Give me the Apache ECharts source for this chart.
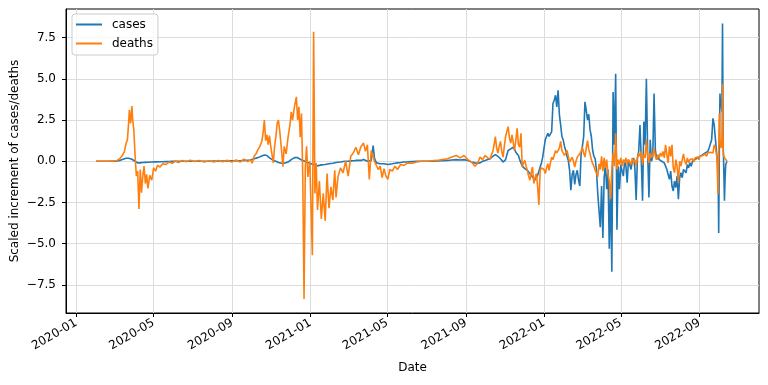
<!DOCTYPE html>
<html>
<head>
<meta charset="utf-8">
<title>Scaled increment of cases/deaths</title>
<script src="https://cdn.jsdelivr.net/npm/echarts@6/dist/echarts.min.js"></script>
<style>
  html, body { margin: 0; padding: 0; background: #fff; }
  #chart { width: 768px; height: 385px; }
</style>
</head>
<body>
<div id="chart"></div>
<script>
// days counted from 2020-01-01
const dayOffsets = [
  31, 40, 50, 60, 64, 68, 72, 75, 78, 80,
  82, 83, 85, 87, 88, 90, 92, 94, 96, 98,
  100, 102, 104, 106, 108, 110, 112, 115, 118, 121,
  124, 127, 131, 135, 140, 145, 150, 155, 160, 166,
  172, 178, 185, 192, 200, 208, 215, 222, 229, 236,
  243, 250, 256, 262, 268, 272, 275, 278, 281, 284,
  287, 290, 292, 294, 296, 298, 300, 302, 304, 308,
  310, 312, 314, 316, 318, 321, 323, 325, 328, 331,
  334, 336, 338, 341, 344, 346, 348, 350, 352, 354,
  356, 358, 360, 362, 365, 369, 371, 373, 375, 377,
  380, 383, 386, 389, 392, 395, 398, 401, 404, 406,
  409, 413, 417, 421, 425, 429, 433, 437, 441, 445,
  449, 452, 455, 458, 461, 464, 466, 469, 472, 475,
  478, 481, 484, 487, 490, 494, 498, 502, 507, 512,
  518, 525, 532, 540, 548, 556, 564, 572, 580, 587,
  594, 600, 606, 612, 618, 623, 627, 631, 635, 639,
  643,
  647, 649, 651, 653, 655, 657, 659, 661, 663, 665,
  667, 669, 671, 673, 675, 677, 679, 681, 683, 685,
  687, 689, 691, 693, 695, 697, 699, 701, 703, 705,
  707, 709, 711, 713, 715, 717, 719, 721, 723, 725,
  727, 729, 731, 733, 735, 737, 739, 741, 743, 745,
  747, 749, 751, 753, 755, 757, 759, 761, 763, 765,
  767, 769, 771, 773, 775, 777, 779, 781, 783, 785,
  787, 789, 791, 793, 795, 797, 799, 801, 803, 805,
  807, 809, 811, 813, 815, 817, 819, 821, 823, 825,
  827, 829, 831, 833, 835, 837, 839, 841, 843, 845,
  847, 849, 851, 853, 855, 857, 859, 861, 863, 865,
  867, 869, 871, 873, 875, 877, 879, 881, 883, 885,
  887, 889, 891, 893, 895, 897, 899, 901, 903, 905,
  907, 909, 911, 913, 915, 917, 919, 921, 923, 925,
  927, 929, 931, 933, 935, 937, 939, 941, 943, 945,
  947, 949, 951, 953, 955, 957, 959, 961, 963, 965,
  967, 969, 971, 973, 975, 977, 979, 981, 983, 985,
  987, 989, 991, 993, 995, 997, 999, 1001,
  1003, 1004, 1005, 1006, 1007, 1008, 1009, 1010, 1011, 1012,
  1013, 1014, 1015, 1016, 1017
]

const cases = [
  0, 0, 0, 0, 0.02, 0.05, 0.1, 0.14, 0.18, 0.17,
  0.18, 0.16, 0.15, 0.12, 0.1, 0.05, 0.0, -0.05, -0.1, -0.12,
  -0.1, -0.1, -0.08, -0.08, -0.07, -0.06, -0.06, -0.05, -0.05, -0.05,
  -0.04, -0.04, -0.03, -0.03, -0.02, -0.02, -0.01, -0.01, 0, 0,
  0, 0, 0, 0, 0, 0, 0.01, 0.01, 0.01, 0.02,
  0.02, 0.03, 0.03, 0.05, 0.05, 0.08, 0.1, 0.15, 0.2, 0.22,
  0.28, 0.32, 0.35, 0.38, 0.38, 0.35, 0.3, 0.2, 0.15, 0.05,
  0.02, 0, -0.05, -0.08, -0.1, -0.12, -0.12, -0.12, -0.12, -0.05,
  0.02, 0.1, 0.15, 0.22, 0.25, 0.22, 0.2, 0.12, 0.08, 0.05,
  0.02, -0.02, -0.05, -0.08, -0.12, -0.18, -0.2, -0.22, -0.25, -0.28,
  -0.25, -0.22, -0.2, -0.2, -0.18, -0.15, -0.15, -0.12, -0.1, -0.08,
  -0.06, -0.05, -0.02, 0, 0, 0.02, 0.03, 0.05, 0.05, 0.05,
  0.1, 0.05, 0.0, -0.05, 0.05, 0.95, 0.2, -0.1, -0.15, -0.15,
  -0.2, -0.15, -0.2, -0.2, -0.15, -0.15, -0.12, -0.1, -0.08, -0.05,
  -0.04, -0.02, 0, 0, 0, 0, 0.02, 0.03, 0.05, 0.08,
  0.1, 0.08, 0.1, 0.05, -0.05, -0.1, -0.12, -0.1, 0.0, 0.05,
  0.1,
  0.15, 0.2, 0.3, 0.35, 0.4, 0.4, 0.3, 0.2, 0.15, 0.05,
  -0.05, 0.0, 0.1, 0.4, 0.65, 0.7, 0.75, 0.8, 0.85, 0.7,
  0.55, 0.45, 0.35, 0.1, -0.1, -0.3, -0.35, -0.45, -0.5, -0.55,
  -0.65, -0.75, -0.85, -0.95, -1.0, -1.15, -1.0, -0.85, -0.6, -0.35,
  -0.1, 0.25, 0.8, 1.3, 1.5, 1.7, 1.5, 1.6, 1.8, 3.5,
  3.7, 4.0, 3.3, 4.3, 2.85, 2.2, 1.5, 1.3, 0.9, 0.65,
  0.3, 0.05, -0.55, -1.75, -0.8, -0.55, -1.4, -0.8, -0.55, -1.15,
  -1.5, 0.45, 0.9, 1.5, 3.6, 3.1, 2.5, 2.85, 1.9, 1.5,
  0.65, 0.3, 0.15, -0.55, -1.95, -2.0, -4.0, -1.5, -4.65, -1.0,
  -0.2, -1.7, -0.5, -5.3, -1.5, -6.7, 4.2, 1.0, 5.3, -4.15,
  -0.3, -1.7, -0.2, -0.6, -0.9, 0.0, -0.3, -1.3, 0.1, -0.2,
  -0.5, 0.0, 0.2, -0.4, -2.35, 0.2, 0.6, 2.2, 0.1, -2.4,
  2.4, 1.0, 5.0, 0.5, -2.2, 1.3, 0.0, 0.3, 4.1, 0.7,
  0.1, 0.3, 0.1, 0.2, 0.0, 0.1, -0.1, -0.2, -0.5, -0.8,
  -1.1, -0.6, -1.5, -1.8, -1.2, -1.6, -0.9, -2.3, -1.0, -0.7,
  -1.0, -0.5, -0.4, -0.7, -0.2, -0.4, -0.1, -0.3, 0.0, -0.1,
  0.1, 0.0, 0.2, 0.1, 0.3, 0.25, 0.4, 0.35, 0.5, 0.45,
  0.6, 0.8, 0.9, 1.3, 2.6, 2.2, 1.3, 0.4,
  -0.3, -4.35, 0.5, 4.1, 3.3, 3.5, 3.0, 8.35, 1.0, -0.5,
  -2.4, -1.0, -0.2, -0.1, 0.0
]

const deaths = [
  0, 0, 0, 0.02, 0.05, 0.15, 0.35, 0.55, 1.1, 1.3,
  2.4, 3.1, 2.3, 3.35, 2.6, 1.9, 0.3, -0.9, -0.6, -2.9,
  -0.5, -1.9, -0.9, -0.3, -1.35, -0.8, -1.65, -0.85, -1.15, -0.4,
  -0.6, -0.25, -0.35, -0.15, -0.2, -0.05, -0.12, 0.02, -0.08, 0.05,
  -0.03, 0.06, -0.02, 0.04, -0.04, 0.03, -0.05, 0.05, -0.03, 0.06,
  -0.04, 0.08, -0.05, 0.12, -0.02, 0.1, -0.12, 0.3, 0.45, 0.7,
  0.9, 1.2, 1.7, 2.5, 1.25, 1.6, 1.0, 1.55, 0.88, -0.1,
  0.9, 1.5, 2.3, 2.5, 1.85, 0.6, -0.33, 0.9, 0.45, 1.45,
  2.2, 3.0, 2.5, 3.3, 3.9, 2.5, 3.3, 1.45, 2.9, -0.93,
  -8.35, -0.33, 0.9, -0.95, 0.0, -5.7, 7.85, -1.95, -0.1, -2.95,
  -1.2, -3.5, -1.95, -3.6, -0.75, -2.85, -1.55, -2.35, -0.55, -2.2,
  -0.95, -0.4, -0.7, 0.0, -0.9, 0.3, 0.5, 0.85, 0.4, 0.9,
  1.1, 0.6, 1.0, -1.1, 0.65, 0.3, 0.0, -0.1, -0.5, -0.3,
  -1.0, -0.45, -0.9, -1.1, -0.5, -0.6, -0.3, -0.5, -0.2, -0.25,
  -0.1, -0.12, -0.05, 0.0, 0.0, 0.03, 0.05, 0.1, 0.15, 0.25,
  0.35, 0.2, 0.35, 0.1, -0.05, -0.3, -0.15, 0.25, 0.1, 0.35,
  0.2,
  0.15, 0.4, 0.58, 1.0, 1.5, 0.8, 0.5, 0.9, 1.2, 0.6,
  0.25, 0.9, 1.5, 1.8, 2.1, 1.4, 1.1, 1.6, 1.7, 0.65,
  1.3, 2.0, 1.0, 0.85, 1.7, -0.35, -0.1, 0.05, -0.3, -0.55,
  -0.9, -1.15, -0.7, -0.35, -1.35, -1.0, -0.75, -1.5, -2.65, -0.55,
  -0.4, -0.35, -0.5, -0.75, -0.4, -0.15, -0.55, -0.1, 0.25, 0.1,
  0.05, 0.65, 0.5, 0.45, 0.8, 1.2, 0.65, 0.5, 0.35, 0.5,
  0.65, 0.3, -0.05, 0.1, 0.25, 0.0, -0.35, 0.0, 0.25, 0.3,
  0.45, 0.6, 0.85, 0.5, 0.25, 0.8, 1.25, 0.7, 0.45, 0.1,
  -0.15, -0.3, -0.55, -0.7, -0.95, -0.15, -0.5, 0.3, -0.6, 0.2,
  -0.4, 0.1, -0.8, -1.2, -2.3, -0.5, 0.5, -0.3, 1.7, -0.5,
  0.1, -0.2, 0.2, -0.3, 0.1, -0.1, 0.2, -0.2, 0.1, 0.0,
  -0.2, 0.2, -0.1, 0.1, -0.3, 0.2, 0.5, 0.3, 0.6, -0.2,
  0.4, 0.2, 1.3, 0.3, -0.1, 0.5, 0.2, 0.4, 0.8, 0.3,
  0.1, 0.4, 0.2, 0.5, 0.3, 0.6, 0.2, 1.0, 0.4, -0.1,
  0.9, 0.3, 1.0, -0.4, -0.7, 0.1, -0.3, -1.3, 0.0, -0.3,
  0.1, 0.45, 0.0, -0.2, 0.2, -0.1, 0.1, 0.0, 0.15, -0.05,
  0.2, 0.1, 0.25, 0.1, 0.3, 0.2, 0.35, 0.3, 0.45, 0.3,
  0.5, 0.4, 0.55, 0.6, 0.5, 1.0, 0.8, 0.3,
  -2.0, 0.5, 2.9, 1.2, 1.0, 0.8, 1.5, 4.7, 0.6, 0.3,
  0.4, 0.2, 0.1, 0.05, 0.0
]

const tickDates = ['2020-01-01', '2020-05-01', '2020-09-01', '2021-01-01', '2021-05-01',
  '2021-09-01', '2022-01-01', '2022-05-01', '2022-09-01']
const yTicks = [-7.5, -5, -2.5, 0, 2.5, 5, 7.5]

const dayMs = 86400000
const startTime = Date.UTC(2020, 0, 1)

function utc(str) {
  const p = str.split('-').map(Number)
  return Date.UTC(p[0], p[1] - 1, p[2])
}

function toPairs(values) {
  return dayOffsets.map((d, i) => [startTime + d * dayMs, values[i]])
}

const tickTimes = tickDates.map(utc)

const chart = echarts.init(document.getElementById('chart'))
chart.setOption({
  animation: false,
  textStyle: { fontFamily: 'DejaVu Sans' },
  grid: {
    left: 66,
    right: 9,
    top: 9,
    bottom: 72,
    show: true,
    borderColor: '#000',
    borderWidth: 1,
    outerBoundsMode: 'none'
  },
  legend: {
    left: 72,
    top: 14,
    orient: 'vertical',
    icon: 'rect',
    itemWidth: 26,
    itemHeight: 2,
    itemGap: 4,
    padding: [3, 5, 4, 4],
    backgroundColor: 'rgba(255,255,255,0.8)',
    borderColor: '#ccc',
    borderWidth: 1,
    borderRadius: 3,
    textStyle: { color: '#000', fontSize: 12, lineHeight: 15, padding: [0, 0, 0, 5] },
    data: ['cases', 'deaths']
  },
  // timestamps on a plain value axis so the month ticks can be placed exactly
  xAxis: {
    type: 'value',
    min: utc('2019-12-16'),
    max: utc('2022-12-03'),
    name: 'Date',
    nameLocation: 'middle',
    nameGap: 49,
    nameMoveOverlap: false,
    nameTextStyle: { color: '#000', fontSize: 12 },
    axisLine: { onZero: false, lineStyle: { color: '#000', width: 1 } },
    axisTick: { customValues: tickTimes, length: 4, lineStyle: { color: '#000' } },
    axisLabel: {
      customValues: tickTimes,
      rotate: 30,
      margin: 9,
      color: '#000',
      fontSize: 12,
      formatter: function (v) {
        const d = new Date(v)
        return d.getUTCFullYear() + '-' + String(d.getUTCMonth() + 1).padStart(2, '0')
      }
    },
    splitLine: { show: true, lineStyle: { color: '#dcdcdc', width: 1 } }
  },
  yAxis: {
    type: 'value',
    min: -9.2,
    max: 9.23,
    name: 'Scaled increment of cases/deaths',
    nameLocation: 'middle',
    nameGap: 45,
    nameMoveOverlap: false,
    nameTextStyle: { color: '#000', fontSize: 12 },
    axisLine: { show: true, onZero: false, lineStyle: { color: '#000', width: 1 } },
    axisTick: { show: true, customValues: yTicks, length: 4, lineStyle: { color: '#000' } },
    axisLabel: {
      customValues: yTicks,
      margin: 10,
      color: '#000',
      fontSize: 12,
      formatter: v => v.toFixed(1).replace('-', '\u2212')
    },
    splitLine: { show: true, lineStyle: { color: '#dcdcdc', width: 1 } }
  },
  series: [
    {
      name: 'cases',
      type: 'line',
      data: toPairs(cases),
      symbol: 'none',
      lineStyle: { color: '#1f77b4', width: 1.6 },
      itemStyle: { color: '#1f77b4' }
    },
    {
      name: 'deaths',
      type: 'line',
      data: toPairs(deaths),
      symbol: 'none',
      lineStyle: { color: '#ff7f0e', width: 1.6 },
      itemStyle: { color: '#ff7f0e' }
    }
  ]
})
</script>
</body>
</html>
